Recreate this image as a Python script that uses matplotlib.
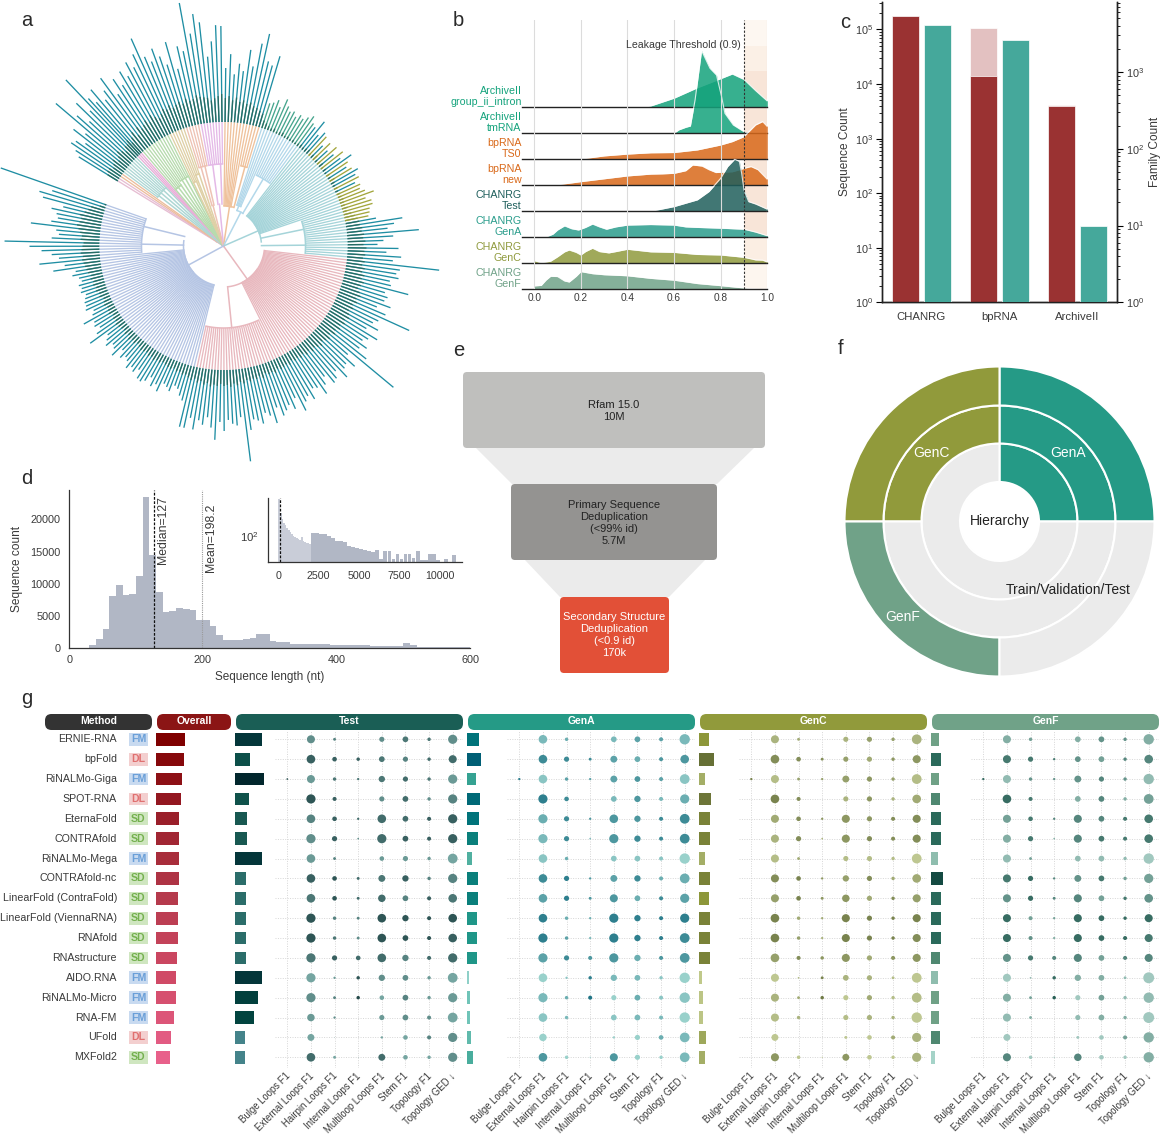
import numpy as np
import matplotlib
matplotlib.use("Agg")
import matplotlib.pyplot as plt
from matplotlib.patches import FancyBboxPatch, Polygon, Rectangle
from matplotlib.colors import LinearSegmentedColormap
from matplotlib.transforms import ScaledTranslation

plt.rcParams['font.family'] = ['Liberation Sans', 'DejaVu Sans']
plt.rcParams['mathtext.default'] = 'regular'
TXT = '#3a3a3a'
W, H = 1165, 1135

# ---------- panel a ----------
clade_from = [149, 146.5, 144, 134, 131, 116, 108, 101, 90, 72.7, 53, -5.7, -103]
clade_to = [146.5, 144, 134, 131, 116, 108, 101, 90, 72.7, 53, -5.7, -103, -200]
clade_colors = ['#e6bdd2', '#ecbd9c', '#aed7d4', '#e9aed8', '#b7dbae', '#dfd0a6', '#eec2b4',
                '#e4b9e7', '#efc29c', '#b3d8ea', '#a5d4d9', '#e8b8be', '#b5c5e4']
clade_root = [0, 0, 0, 0, 0, 0, 42, 42, 40, 38, 38, 41, 40]
clade_split = [2, 2, 4, 3, 5, 3, 5, 8, 8, 5, 25, 42, 52]
clade_r1 = [8, 8, 82, 12, 74, 70, 82, 82, 40, 43, 38, 41, 40]
clade_r2 = [8, 8, 82, 12, 78, 76, 82, 82, 82, 78, 82, 82, 82]
clade_stems = [1, 1, 2, 1, 3, 2, 2, 2, 1, 1, 2, 1, 2]
tips = [
    [170, 176], [184, 181], [172, 190, 178, 220, 196, 183, 205, 190], [229, 200, 192],
    [205, 188, 196, 208, 185, 200, 190, 203, 195, 208, 200],
    [212, 227, 205, 198, 210, 200], [190, 212, 183, 205, 199],
    [247, 215, 234, 225, 190, 205, 221, 220],
    [178, 192, 172, 183, 176, 198, 182, 206, 217, 190, 187, 198],
    [150, 152, 156, 150, 160, 154, 150, 152, 148, 152, 150, 154, 158, 152],
    [150, 160, 146, 152, 150, 141, 148, 141, 150, 143, 152, 146, 157, 150, 146, 150, 155, 150, 152, 146, 150,
     148, 152, 160, 150, 155, 155, 151, 150, 148, 155, 181, 172, 165, 196, 170, 160, 154, 175, 163, 178, 170],
    [217, 178, 175, 178, 170, 172, 191, 168, 172, 170, 178, 165, 176, 204, 172, 168, 176, 165, 180, 172,
     168, 176, 170, 182, 221, 165, 178, 170, 172, 180, 168, 174, 176, 165, 172, 180, 170, 168, 178, 172,
     176, 184, 168, 178, 172, 176, 180, 170, 185, 176, 172, 182, 178, 176, 186, 217, 172, 180, 178, 174,
     185, 176, 194, 182, 172, 180, 176, 186, 175, 186],
    [186, 160, 156, 150, 148, 155, 152, 150, 160, 154, 158, 150, 156, 159, 158, 150, 155, 152, 156, 150,
     148, 152, 145, 156, 150, 148, 154, 150, 146, 165, 154, 148, 152, 150, 160, 148, 145, 152, 150, 150,
     148, 146, 150, 148, 150, 146, 148, 154, 150, 172, 160, 185, 165, 172, 182, 194, 219, 172, 165, 168,
     194, 174, 168, 170, 176, 165, 187, 192, 180, 236],
]
bands = [
    [136, 138], [138, 135], [137, 140, 135, 138, 142, 139, 136, 140], [140, 143, 138],
    [142, 146, 140, 147, 143, 145, 148, 144, 150, 146, 143],
    [146, 150, 148, 151, 147, 149], [151, 148, 152, 149, 150],
    [153, 151, 150, 149, 146, 148, 150, 152],
    [148, 150, 146, 149, 145, 147, 144, 146, 143, 142, 140, 138],
    [132, 130, 128, 127, 128, 126, 127, 128, 126, 127, 126, 127, 126, 127],
    [128, 127, 128, 129, 127, 128, 130, 127, 128, 129, 127, 128, 126, 128, 127, 130, 128, 127, 128, 127, 128,
     128, 129, 128, 128, 130, 128, 132, 135, 137, 138, 138, 140, 139, 141, 140, 142, 140, 143, 141, 142, 140],
    [142, 140, 143, 141, 144, 142, 145, 143, 141, 144, 146, 143, 145, 142, 144, 141, 143, 145, 142, 144,
     141, 143, 140, 142, 138, 141, 139, 137, 140, 138, 136, 138, 135, 137, 134, 136, 134, 135, 133, 136,
     134, 135, 136, 134, 137, 135, 136, 134, 138, 135, 137, 136, 138, 136, 139, 137, 140, 138, 141, 139,
     140, 138, 140, 139, 141, 138, 140, 137, 139, 136],
    [138, 136, 134, 135, 133, 134, 132, 134, 133, 132, 131, 133, 132, 134, 132, 133, 131, 132, 133, 131,
     130, 132, 131, 133, 130, 132, 130, 131, 132, 133, 131, 132, 130, 133, 132, 131, 133, 132, 131, 134,
     133, 135, 134, 136, 135, 137, 136, 138, 139, 140, 141, 142, 141, 143, 142, 141, 140, 143, 142, 144,
     146, 148, 146, 145, 147, 143, 140, 138, 130, 126],
]
bar_codes = ['T' * 2, 'T' * 2, 'T' * 8, 'T' * 3, 'T' * 11, 'T' * 6, 'T' * 5, 'T' * 8, 'T' * 12, 'G' * 14,
             'TTTTOTOTOTOTTOTOTTOTOOOOOOOOOOTTTTTTTTTTTT', 'T' * 70, 'T' * 70]
bar_palette = {'T': '#1f8ea3', 'G': '#46a58d', 'O': '#a3a63c'}
TIP_R = 124

# ---------- panel b ----------
ridge_names = ['ArchiveII\ngroup_ii_intron', 'ArchiveII\ntmRNA', 'bpRNA\nTS0', 'bpRNA\nnew',
               'CHANRG\nTest', 'CHANRG\nGenA', 'CHANRG\nGenC', 'CHANRG\nGenF']
ridge_colors = ['#14a37c', '#14a37c', '#d9691a', '#d9691a', '#1f5f5c', '#2a9d8c', '#8f9a3d', '#70a288']
ridge_x = [
    [.44, .48, .5, .6, .7, .8, .85, .9, .95, 1.0],
    [.6, .62, .65, .67, .69, .718, .754, .782, .804, .818, .854, .9, .92, 1.0],
    [.1, .2, .3, .4, .5, .6, .7, .8, .85, .9, .95, .98, 1.0],
    [.1, .2, .3, .4, .5, .55, .6, .65, .68, .72, .75, .78, .8, .85, .9, .93, .96, 1.0],
    [.5, .6, .7, .75, .8, .83, .86, .88, .89, .9, .92, .95, 1.0],
    [0, .05, .08, .1, .13, .16, .19, .22, .25, .28, .31, .35, .4, .5, .6, .65, .7, .8, .9, .95, 1.0],
    [0, .03, .07, .1, .13, .15, .18, .2, .22, .25, .28, .32, .35, .4, .5, .6, .7, .8, .9, .95, .98, 1.0],
    [0, .03, .05, .07, .1, .13, .15, .18, .2, .25, .3, .4, .5, .6, .7, .8, .9, .97, 1.0],
]
ridge_y = [
    [0, .02, .05, .35, .75, 1.1, 1.28, 1.07, .64, .24],
    [0, .13, .23, .28, 1.28, 3.18, 2.5, 2.24, 1.4, .77, .32, .06, 0, 0],
    [0, .01, .13, .2, .25, .26, .36, .55, .68, .87, 1.32, 1.45, 1.26],
    [.02, .14, .25, .36, .43, .44, .46, .56, .78, .74, .6, .49, .5, .52, .65, .72, .6, .23],
    [0, .18, .44, .76, 1.27, 1.72, 2.0, 1.92, 1.46, .82, .37, .28, .08],
    [0, .01, .12, .28, .44, .33, .28, .38, .51, .4, .31, .4, .47, .49, .47, .4, .38, .35, .31, .2, .06],
    [.1, .02, .08, .25, .44, .51, .42, .32, .45, .58, .45, .4, .45, .54, .44, .42, .34, .32, .23, .13, .12, .05],
    [.13, .15, .35, .5, .49, .32, .28, .5, .68, .6, .56, .52, .42, .35, .22, .14, .05, 0, 0],
]
shade_top = [10.36, 9.36, 8.4, 2.0, 1.0]
shade_bottom = [9.36, 8.4, 2.0, 1.0, 0.0]
shade_colors = ['#fdf7f1', '#fbf0e6', '#f8e5d8', '#fbeee3', '#fdf6ef']

# ---------- panel c ----------
c_cats = ['CHANRG', 'bpRNA', 'ArchiveII']
seq_total = [175000, 106000, 4150]
seq_main = [175000, 13800, 3950]
family_count = [4090, 2630, 10]

# ---------- panel d ----------
len_edges_start = 30
len_counts = [500, 1400, 3000, 8100, 9800, 8300, 8400, 11200, 23400, 14400, 8800, 5700, 5800, 6300, 6100, 5900,
              4400, 4400, 3400, 2100, 1300, 1300, 1300, 1500, 1600, 2200, 2200, 1200, 1000, 900, 700, 700, 700,
              700, 600, 700, 500, 550, 500, 500, 450, 450, 400, 350, 300, 300, 350, 800, 450, 250, 200, 200, 200,
              150, 150, 200, 200]
ins_fine_x = [50, 150, 250, 350, 450, 550, 650, 750, 850, 950, 1050, 1150, 1250, 1350, 1450, 1550, 1650, 1750, 1850, 1950]
ins_fine_y = [2400, 700, 430, 300, 240, 190, 160, 135, 115, 100, 90, 82, 75, 70, 92, 62, 57, 54, 51, 50]
ins_x = [2125, 2375, 2625, 2875, 3125, 3375, 3625, 3875, 4125, 4375, 4625, 4875, 5125, 5375, 5625, 5875, 6125, 6375,
         6625, 6875, 7125, 7375, 7625, 7875, 8125, 8375, 8625, 8875, 9125, 9375, 9625, 9875, 10375, 10875]
ins_y = [126, 126, 120, 117, 95, 80, 65, 62, 57, 42, 37, 35, 32, 28, 26, 24, 28, 13, 26, 26, 13, 21, 13, 21, 21,
         14, 26, 12, 12, 21, 21, 12, 13, 18]

# ---------- panel e ----------
funnel_labels = ['Rfam 15.0\n10M', 'Primary Sequence\nDeduplication\n(<99% id)\n5.7M',
                 'Secondary Structure\nDeduplication\n(<0.9 id)\n170k']

# ---------- panel f ----------
sun_edges = [39.5, 78, 116, 155]
sun_segments = [[(0, 90, '#259a86'), (90, 360, '#ebebeb')],
                [(0, 90, '#259a86'), (90, 180, '#919a3b'), (180, 360, '#ebebeb')],
                [(0, 90, '#259a86'), (90, 180, '#919a3b'), (180, 270, '#70a288'), (270, 360, '#ebebeb')]]

# ---------- panel g ----------
methods = ['ERNIE-RNA', 'bpFold', 'RiNALMo-Giga', 'SPOT-RNA', 'EternaFold', 'CONTRAfold', 'RiNALMo-Mega',
           'CONTRAfold-nc', 'LinearFold (ContraFold)', 'LinearFold (ViennaRNA)', 'RNAfold', 'RNAstructure',
           'AIDO.RNA', 'RiNALMo-Micro', 'RNA-FM', 'UFold', 'MXFold2']
method_tags = ['FM', 'DL', 'FM', 'DL', 'SD', 'SD', 'FM', 'SD', 'SD', 'SD', 'SD', 'SD', 'FM', 'FM', 'FM', 'DL', 'SD']
metrics = ['Bulge Loops F1', 'External Loops F1', 'Hairpin Loops F1', 'Internal Loops F1', 'Multiloop Loops F1',
           'Stem F1', 'Topology F1', 'Topology GED ↓']
overall = [29, 28.3, 26.3, 25, 23, 23, 23, 23, 22, 22, 22, 21, 20, 20, 18, 15, 14]
test_bar = [27, 15, 29, 14, 12, 12, 27, 11, 11, 11, 11, 11, 27, 23, 19, 10, 10]
gena_bar = [12, 14, 9, 13, 12, 11, 5, 11, 11, 10, 10, 10, 2, 3, 3, 4, 6]
genc_bar = [10, 15, 6, 12, 11, 11, 6, 11, 10, 11, 11, 11, 3, 4, 4, 7, 6]
genf_bar = [8, 10, 8, 9, 10, 10, 7, 11.5, 10, 10, 10, 9, 7, 8, 8, 9, 4]
shade = [
    [0, 3, 4, 0, 3, 5, 5, 3], [0, 7, 7, 7, 5, 4, 6, 6], [8, 2, 5, 5, 5, 6, 5, 2], [0, 8, 7, 0, 3, 6, 3, 4],
    [0, 4, 7, 6, 6, 6, 7, 7], [0, 3, 7, 3, 6, 7, 7, 7], [0, 2, 4, 0, 2, 2, 2, 1], [0, 7, 8, 6, 5, 7, 4, 4],
    [0, 5, 8, 6, 6, 4, 7, 5], [0, 8, 4, 4, 8, 8, 8, 8], [0, 8, 5, 3, 8, 8, 8, 7], [0, 5, 7, 6, 6, 4, 6, 6],
    [0, 1, 2, 8, 3, 3, 2, 1], [0, 3, 4, 9, 1, 4, 2, 2], [0, 2, 3, 0, 2, 3, 3, 1], [0, 1, 0, 0, 1, 1, 4, 3],
    [0, 6, 1, 1, 6, 1, 1, 3],
]
test_dots = [
    [0, 7, 2.5, 0, 4.5, 5, 3, 8], [0, 7.5, 4, 3, 5, 4.5, 3, 7], [1.5, 7, 3, 2, 5.5, 4.5, 3, 8],
    [0, 8, 3.5, 0, 4.5, 5, 3, 8], [0, 7.5, 4, 2, 7.5, 5, 3.5, 8], [0, 8, 4.5, 1.5, 8, 5, 3.5, 8],
    [0, 7.5, 2.5, 0, 4, 4.5, 3, 8.5], [0, 7.5, 4, 2.5, 6, 5.5, 3, 8], [0, 7.5, 4, 2.5, 6.5, 5, 3.5, 7.5],
    [0, 8, 3, 2.5, 7.5, 5.5, 3.5, 7.5], [0, 8, 3, 2.5, 7.5, 5, 3.5, 7.5], [0, 8, 4.5, 4, 7.5, 5.5, 3.5, 8],
    [0, 8, 2, 3, 5.5, 5, 3, 8.5], [0, 8, 2.5, 3, 4, 5, 3, 8], [0, 6.5, 2, 0, 4.5, 5, 3.5, 8.5],
    [0, 6, 0.5, 0, 2, 4, 3.5, 8], [0, 7.5, 2.5, 0.5, 6, 4, 3, 8],
]
gena_dots = [
    [0, 7.5, 3, 0, 5, 5, 3.5, 9], [0, 7.5, 4.5, 2.5, 6, 5, 3.5, 7.5], [2, 7.5, 3, 2, 6, 5, 3.5, 8.5],
    [0, 8, 4, 0, 5, 5.5, 3.5, 8], [0, 8, 4.5, 2, 7.5, 5.5, 3.5, 8.5], [0, 8, 4.5, 1.5, 8, 5.5, 3.5, 8.5],
    [0, 7.5, 3, 0, 5, 5, 3.5, 9], [0, 7.5, 4.5, 2, 6, 5.5, 3.5, 8.5], [0, 7.5, 4.5, 2.5, 7, 5, 3.5, 8],
    [0, 7.5, 3, 2, 8, 5.5, 3.5, 8], [0, 8, 3, 2, 8, 5.5, 3.5, 8.5], [0, 8, 4.5, 3.5, 8, 5.5, 3.5, 8.5],
    [0, 7.5, 2, 3, 5.5, 5, 3, 9], [0, 8, 3, 3.5, 4.5, 5, 3.5, 9], [0, 7.5, 3, 0, 5, 5, 3.5, 9],
    [0, 6.5, 0, 0, 2, 4.5, 4, 8.5], [0, 7.5, 3, 1, 7, 4.5, 3, 8.5],
]
genc_dots = [
    [0, 7, 2.5, 0, 4.5, 4.5, 3, 8.5], [0, 7.5, 4, 2.5, 4.5, 4.5, 3, 7], [2, 7, 2.5, 2, 6, 4.5, 3, 8.5],
    [0, 7.5, 3.5, 0, 4.5, 4.5, 3, 7.5], [0, 7, 4, 2, 7, 4.5, 3.5, 7], [0, 7, 4.5, 1.5, 7, 4.5, 3.5, 7],
    [0, 7, 2.5, 0, 4.5, 4.5, 3, 8.5], [0, 7, 4, 2, 5.5, 4.5, 3, 7.5], [0, 7, 4, 2.5, 6.5, 4.5, 3, 7],
    [0, 7.5, 3, 2, 7, 4.5, 3, 7], [0, 7.5, 3, 2, 7, 4.5, 3, 7], [0, 7.5, 3.5, 3, 7, 4.5, 3.5, 7],
    [0, 7, 1.5, 2.5, 5, 4.5, 2.5, 8.5], [0, 7, 2.5, 3, 4.5, 4.5, 3, 8.5], [0, 7, 3, 0, 4.5, 4.5, 3, 9],
    [0, 6, 0, 0, 2.5, 4, 3.5, 8], [0, 7, 3, 1, 6, 4, 3, 8],
]
genf_dots = [
    [0, 7, 3, 0, 5, 5, 3, 9], [0, 7, 4.5, 2, 5, 5, 3, 7.5], [2, 7, 3, 2, 6, 4.5, 3, 9],
    [0, 7.5, 3.5, 0, 5, 5, 3, 8.5], [0, 7, 4, 2, 7, 5, 3.5, 7.5], [0, 7, 4.5, 1.5, 7, 5, 3.5, 7.5],
    [0, 7, 2.5, 0, 5, 5, 3, 9], [0, 7, 4.5, 2, 6, 5, 3, 8], [0, 7, 4.5, 2.5, 7, 5, 3, 7.5],
    [0, 7, 3.5, 2, 7, 5, 3, 7], [0, 7, 3.5, 2, 7, 5, 3.5, 7], [0, 7, 4.5, 3.5, 7, 5, 3.5, 7],
    [0, 7, 1.5, 3, 5.5, 5, 2.5, 9.5], [0, 7, 2.5, 3, 4.5, 5, 3, 9], [0, 7, 2.5, 0, 4.5, 5, 3, 9.5],
    [0, 6, 0, 0, 2.5, 4, 3.5, 9], [0, 7, 3, 1, 6.5, 4, 3, 9],
]

fig = plt.figure(figsize=(W / 100, H / 100), dpi=100)


def ax_px(x0, y0, x1, y1, **kw):
    a = fig.add_axes([x0 / W, 1 - y1 / H, (x1 - x0) / W, (y1 - y0) / H], **kw)
    a.patch.set_alpha(0)
    return a


# ===== a: radial tree =====
RMAX = 260
cx, cy = 223.5, 246
axa = ax_px(cx - RMAX, cy - RMAX, cx + RMAX, cy + RMAX, polar=True)
axa.set_rlim(0, RMAX)
axa.axis('off')
for k in range(len(tips)):
    n = len(tips[k])
    edges = np.radians(np.linspace(clade_from[k], clade_to[k], n + 1))
    th = (edges[:-1] + edges[1:]) / 2
    col = clade_colors[k]
    inner = np.array([clade_r1[k]] * clade_split[k] + [clade_r2[k]] * (n - clade_split[k]))
    bar_c = [bar_palette[c] for c in bar_codes[k]]
    axa.vlines(th, TIP_R, tips[k], colors=bar_c, lw=.95, zorder=2)
    dark = ['#27685c' if c != 'O' else '#8f9a3d' for c in bar_codes[k]]
    axa.vlines(th, TIP_R, bands[k], colors=dark, lw=.95, alpha=.9, zorder=3)
    axa.vlines(th, inner, TIP_R, colors=col, lw=.95, zorder=4)
    root = clade_root[k]
    blocks = []
    for sl, r in ((slice(0, clade_split[k]), clade_r1[k]), (slice(clade_split[k], n), clade_r2[k])):
        t = th[sl]
        if len(t) == 0:
            continue
        tt = np.linspace(t[0], t[-1], 30)
        axa.plot(tt, np.full(30, r), color=col, lw=1.1, zorder=4)
        blocks.append(t.mean())
        if r > root:
            for q in range(clade_stems[k]):
                sm = t[int((q + .5) * len(t) / clade_stems[k])]
                axa.plot([sm, sm], [root, r], color=col, lw=1.1, zorder=4)
    if root > 0:
        tt = np.linspace(min(blocks), max(blocks), 30)
        axa.plot(tt, np.full(30, root), color=col, lw=1.1, zorder=4)
        m = th.mean()
        axa.plot([m, m], [0, root], color=col, lw=1.1, zorder=4)

# ===== b: ridgeline =====
base_px, unit = 289.3, 26.0
axb = ax_px(521.7, 20, 767.3, base_px)
axb.set_xlim(-0.054, 1.0)
axb.set_ylim(0, (base_px - 20) / unit)
for t, b, c in zip(shade_top, shade_bottom, shade_colors):
    axb.fill_between([0.9, 1.0], [b, b], [t, t], color=c, lw=0, zorder=0)
n_r = len(ridge_names)
for i in range(n_r):
    off = n_r - 1 - i
    y = off + np.array(ridge_y[i])
    axb.fill_between(ridge_x[i], off, y, color=ridge_colors[i], alpha=.85, lw=0, zorder=2 + i)
    axb.plot(ridge_x[i], y, color='white', lw=.8, alpha=.8, zorder=2 + i)
    axb.plot([-0.054, 1.0], [off, off], color='#222222', lw=1, zorder=2 + i, clip_on=False)
    axb.text(-0.054, off + .03, ridge_names[i], ha='right', va='bottom', color=ridge_colors[i],
             fontsize=7.7, linespacing=1.1, clip_on=False)
for x in [0, .2, .4, .6, .8, 1.0]:
    axb.axvline(x, color='#dcdcdc', lw=.8, zorder=20)
axb.axvline(.9, color='#333333', lw=.8, ls=(0, (2, 1.5)), zorder=21)
axb.text(.885, 9.38, 'Leakage Threshold (0.9)', ha='right', va='center', fontsize=7.6, color=TXT, zorder=22)
axb.set_xticks([0, .2, .4, .6, .8, 1.0])
axb.set_xticklabels(['0.0', '0.2', '0.4', '0.6', '0.8', '1.0'], fontsize=7.3, color=TXT)
axb.tick_params(axis='x', length=0, pad=3)
axb.set_yticks([])
for s in axb.spines.values():
    s.set_visible(False)

# ===== c: bars =====
axc = ax_px(882.3, 1.5, 1116.7, 302.3)
axc.set_yscale('log')
axc.set_ylim(1, 10 ** 5.513)
px_per = 234.4 / 3.0
cpos = np.arange(3)
axc.set_xlim(-0.5, 2.5)
bw = 27 / px_per
offs = 15.75 / px_per
axc.bar(cpos - offs, seq_total, bw, color='#e3c1c1', edgecolor='white', lw=.5, zorder=2)
axc.bar(cpos - offs, seq_main, bw, color='#9a3232', edgecolor='white', lw=.5, zorder=3)
axc.set_ylabel('Sequence Count', fontsize=8.6, color=TXT, labelpad=3)
axc.set_xticks(cpos)
axc.set_xticklabels(c_cats, fontsize=8.2, color=TXT)
axc.tick_params(axis='x', length=0, pad=7)
axc.tick_params(axis='y', which='major', length=4.5, width=.8, labelsize=7.8, labelcolor=TXT, pad=2)
axc.tick_params(axis='y', which='minor', length=2.5, width=.6)
axc.yaxis.set_major_locator(matplotlib.ticker.LogLocator(base=10, numticks=8))
axc.yaxis.set_minor_locator(matplotlib.ticker.LogLocator(base=10, subs=np.arange(2, 10) * 1.0, numticks=8))
axc.yaxis.set_minor_formatter(matplotlib.ticker.NullFormatter())
axc2 = axc.twinx()
axc2.patch.set_alpha(0)
axc2.set_yscale('log')
axc2.set_ylim(1, 10 ** 3.92)
axc2.bar(cpos + offs, family_count, bw, color='#45a89b', edgecolor='white', lw=.5, zorder=3)
axc2.set_ylabel('Family Count', fontsize=8.6, color=TXT, labelpad=4)
axc2.tick_params(axis='y', which='major', length=4.5, width=.8, labelsize=7.8, labelcolor=TXT, pad=2)
axc2.tick_params(axis='y', which='minor', length=2.5, width=.6)
axc2.yaxis.set_major_locator(matplotlib.ticker.LogLocator(base=10, numticks=6))
axc2.yaxis.set_minor_locator(matplotlib.ticker.LogLocator(base=10, subs=np.arange(2, 10) * 1.0, numticks=6))
axc2.yaxis.set_minor_formatter(matplotlib.ticker.NullFormatter())
axc.spines['top'].set_visible(False)
axc2.spines['top'].set_visible(False)
for a in (axc, axc2):
    for s in a.spines.values():
        s.set_linewidth(1)
        s.set_color('#222222')

# ===== d: histogram =====
axd = ax_px(69.3, 490, 470, 648.3)
axd.set_xlim(0, 600)
axd.set_ylim(0, 24540)
len_x = len_edges_start + 10 * np.arange(len(len_counts))
axd.bar(len_x, len_counts, 10, align='edge', color='#b1b7c5', lw=0)
axd.axvline(127, color='#111111', lw=.9, ls=(0, (2.2, 1.2)))
axd.axvline(198.2, color='#9a9a9a', lw=.8, ls=(0, (1, 1)))
axd.text(140, 13070, 'Median=127', rotation=90, ha='center', va='bottom', fontsize=8.8, color=TXT)
axd.text(212, 11800, 'Mean=198.2', rotation=90, ha='center', va='bottom', fontsize=8.8, color=TXT)
axd.set_xticks([0, 200, 400, 600])
axd.set_yticks([0, 5000, 10000, 15000, 20000])
axd.tick_params(length=0, labelsize=7.8, labelcolor=TXT, pad=5)
axd.tick_params(axis='y', pad=6.5)
axd.set_xlabel('Sequence length (nt)', fontsize=8.5, color=TXT, labelpad=4.5)
axd.set_ylabel('Sequence count', fontsize=8.6, color=TXT, labelpad=5)
for s in ('top', 'right'):
    axd.spines[s].set_visible(False)
for s in ('left', 'bottom'):
    axd.spines[s].set_linewidth(.9)
    axd.spines[s].set_color('#333333')

axi = ax_px(268.3, 498.3, 461.7, 562.3)
axi.set_xlim(-620, 11350)
axi.set_yscale('log')
axi.set_ylim(10, 10 ** 3.4)
axi.bar(ins_fine_x, ins_fine_y, 100, color='#c9cdd8', lw=0)
axi.bar(ins_x, ins_y, 230, color='#b1b7c5', lw=0)
axi.axvline(127, color='#111111', lw=.9, ls=(0, (2.2, 1.2)))
axi.set_xticks([0, 2500, 5000, 7500, 10000])
axi.set_yticks([100])
axi.yaxis.set_minor_locator(matplotlib.ticker.NullLocator())
axi.tick_params(length=0, labelsize=7.7, labelcolor=TXT, pad=6.5)
axi.tick_params(axis='y', pad=7, labelsize=8.2)
for s in ('top', 'right'):
    axi.spines[s].set_visible(False)
for s in ('left', 'bottom'):
    axi.spines[s].set_linewidth(.9)
    axi.spines[s].set_color('#333333')

# ===== f: sunburst =====
RS = 157
fx, fy = 999.5, 521.5
axf = ax_px(fx - RS, fy - RS, fx + RS, fy + RS, polar=True)
axf.set_rlim(0, RS)
axf.axis('off')
for ring, segs in enumerate(sun_segments):
    for a0, a1, c in segs:
        axf.bar(np.radians((a0 + a1) / 2), sun_edges[ring + 1] - sun_edges[ring], np.radians(a1 - a0),
                bottom=sun_edges[ring], color=c, edgecolor='white', lw=1.5)

# ===== overlay: letters, funnel, headers =====
ov = ax_px(0, 0, W, H)
ov.set_xlim(0, W)
ov.set_ylim(H, 0)
ov.axis('off')
for lab, x, y in [('a', 27, 21), ('b', 458, 21), ('c', 845, 22), ('d', 27, 478), ('e', 459, 350), ('f', 841, 349), ('g', 27, 698)]:
    ov.text(x, y, lab, fontsize=14.5, color='#2a2a2a', ha='center', va='center')

for x0, x1, x2, x3, y0, y1 in [(476, 754, 717, 512, 448, 484), (525, 705, 669, 560, 560, 597)]:
    ov.add_patch(Polygon([(x0, y0), (x1, y0), (x2, y1), (x3, y1)], closed=True, fc='#ebebeb', ec='none'))
for (x0, x1, y0, y1, c, tc), lab in zip([(463, 765, 372, 448, '#bfbfbd', '#222222'),
                                         (511, 717, 484, 560, '#949391', '#222222'),
                                         (560, 669, 597, 673, '#e25037', 'white')], funnel_labels):
    ov.add_patch(FancyBboxPatch((x0, y0), x1 - x0, y1 - y0, boxstyle='round,pad=0,rounding_size=4', fc=c, ec='none'))
    ov.text((x0 + x1) / 2, (y0 + y1) / 2 + 0.5, lab, ha='center', va='center', fontsize=8, color=tc, linespacing=1.25)

ov.text(999.5, 521, 'Hierarchy', fontsize=10, color='#222222', ha='center', va='center')
ov.text(1068, 590, 'Train/Validation/Test', fontsize=10, color='#222222', ha='center', va='center')
ov.text(1068, 453, 'GenA', fontsize=10, color='white', ha='center', va='center')
ov.text(931, 453, 'GenC', fontsize=10, color='white', ha='center', va='center')
ov.text(903, 617, 'GenF', fontsize=10, color='white', ha='center', va='center')

for x0, x1, c, lab in [(45, 152, '#333333', 'Method'), (157, 231, '#8b1515', 'Overall'), (236, 463, '#1a5e55', 'Test'),
                       (468, 695, '#259a86', 'GenA'), (700, 927, '#919a3b', 'GenC'), (932, 1159, '#70a288', 'GenF')]:
    ov.add_patch(FancyBboxPatch((x0, 714), x1 - x0, 16, boxstyle='round,pad=0,rounding_size=6.5', fc=c, ec='none'))
    ov.text((x0 + x1) / 2, 721.5, lab, color='white', fontsize=7.5, fontweight='bold', ha='center', va='center')

# ===== g: table =====
ROW0, ROWH = 739.3, 19.875
TOP, BOT = 731, 1068
rows = np.arange(len(methods))


def ax_rows(x0, x1, **kw):
    a = ax_px(x0, TOP, x1, BOT, **kw)
    a.set_ylim((BOT - ROW0) / ROWH, (TOP - ROW0) / ROWH)
    a.axis('off')
    return a


tab = ax_rows(0, 155)
tab.set_xlim(0, 155)
tag_style = {'FM': ('#c8daf0', '#6a9fd8'), 'DL': ('#f3cfcf', '#e07070'), 'SD': ('#cfe6c0', '#74b04f')}
for i, (m, t) in enumerate(zip(methods, method_tags)):
    tab.text(117, i, m, ha='right', va='center', fontsize=7.65, color=TXT)
    bg, fg = tag_style[t]
    tab.add_patch(Rectangle((129, i - .32), 19, .64, fc=bg, ec='none'))
    tab.text(138.5, i, t, ha='center', va='center', fontsize=7.6, color=fg, fontweight='bold')

BARH = 12.7 / ROWH
axo = ax_rows(156, 200)
axo.set_xlim(0, 44)
red = LinearSegmentedColormap.from_list('r', ['#7f0000', '#9a1f2a', '#b53a4c', '#d04a66', '#e8608a'])
axo.barh(rows, overall, BARH, color=[red(i / 16) for i in rows], lw=0)

nodes_test = [(10, '#44838a'), (11, '#2a6c69'), (12, '#17574f'), (15, '#0c4f49'), (19, '#02443f'), (23, '#02403d'),
              (27, '#04363a'), (29, '#02272d')]
nodes_a = [(2, '#8fd0c8'), (3, '#70c4b8'), (5, '#50b0a0'), (9, '#35a292'), (10, '#1f9688'), (11, '#0a7f7b'),
           (12, '#00737a'), (14, '#005f75')]
nodes_c = [(3, '#c0c98a'), (4, '#bcc585'), (6, '#a4ae66'), (10, '#8d973a'), (11, '#7a8238'), (12, '#6d7538'),
           (15, '#667035')]
nodes_f = [(4, '#a5d3c8'), (7, '#8fbdae'), (8, '#6fa186'), (9, '#4f8871'), (10, '#2b6a5b'), (11.5, '#144a42')]
dot_cols = [('#7fb0ac', '#244a4a'), ('#a8dcd4', '#1f7485'), ('#c8d09a', '#6f7a45'), ('#b0d5cc', '#285f55')]


def node_cmap(nodes):
    lo, hi = nodes[0][0], nodes[-1][0]
    return LinearSegmentedColormap.from_list('n', [((v - lo) / (hi - lo), c) for v, c in nodes]), lo, hi


groups = [(test_bar, test_dots, nodes_test), (gena_bar, gena_dots, nodes_a),
          (genc_bar, genc_dots, nodes_c), (genf_bar, genf_dots, nodes_f)]
for g, (bars, dots, nodes) in enumerate(groups):
    off = 232 * g
    gx0 = 235 + off
    axg = ax_rows(gx0, gx0 + 36)
    axg.set_xlim(0, 36)
    cm, lo, hi = node_cmap(nodes)
    axg.barh(rows, bars, BARH, color=[cm(np.clip((b - lo) / (hi - lo), 0, 1)) for b in bars], lw=0)

    x0 = 275 + off
    x1 = 463 + off
    axs = ax_px(x0, TOP, x1, BOT)
    axs.set_ylim((BOT - ROW0) / ROWH, (TOP - ROW0) / ROWH)
    axs.set_xlim((x0 - (287.3 + off)) / 23.63, (x1 - (287.3 + off)) / 23.63)
    for r in rows:
        axs.axhline(r, color='#d6d6d6', lw=.7, ls=(0, (1, 1.5)), zorder=1)
    for c in range(len(metrics)):
        axs.axvline(c, color='#d6d6d6', lw=.7, ls=(0, (1, 1.5)), zorder=1)
    dcm = LinearSegmentedColormap.from_list('d', dot_cols[g])
    D = np.array(dots, dtype=float)
    S = np.array(shade, dtype=float) / 9
    cc, rr = np.meshgrid(np.arange(len(metrics)), rows)
    keep = D > 0
    axs.scatter(cc[keep], rr[keep], s=(D[keep] * .72 * 1.15) ** 2, c=dcm(S[keep]), lw=0, zorder=3)
    axs.set_xticks(np.arange(len(metrics)))
    axs.set_xticklabels(metrics, rotation=45, ha='right', rotation_mode='anchor', fontsize=6.9, color=TXT)
    axs.tick_params(axis='x', length=0, pad=2)
    shift = ScaledTranslation(-1.5 / 72, 0, fig.dpi_scale_trans)
    for lab in axs.get_xticklabels():
        lab.set_transform(lab.get_transform() + shift)
    axs.set_yticks([])
    for s in axs.spines.values():
        s.set_visible(False)

fig.savefig('out.png', dpi=100)
